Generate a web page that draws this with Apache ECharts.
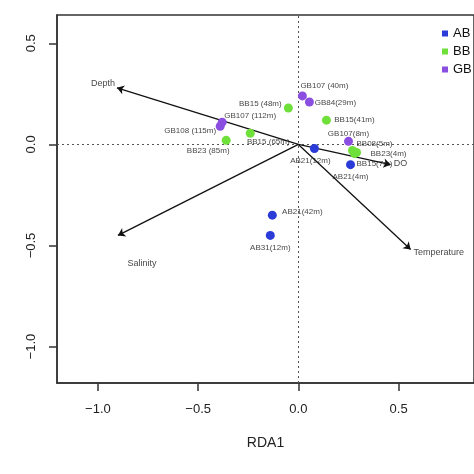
<!DOCTYPE html>
<html><head><meta charset="utf-8">
<script src="https://cdn.jsdelivr.net/npm/echarts@6/dist/echarts.min.js"></script>
<style>html,body{margin:0;padding:0;background:#fff}#c{width:474px;height:474px}</style>
</head><body><div id="c"></div>
<script>
// sites per group: [RDA1, RDA2, name]
var abSites = [[0.08,-0.02,'AB21(12m)'],[0.26,-0.10,'AB21(4m)'],[-0.13,-0.35,'AB21(42m)'],[-0.14,-0.45,'AB31(12m)']];
var bbSites = [[-0.05,0.18,'BB15 (48m)'],[0.14,0.12,'BB15(41m)'],[-0.24,0.055,'BB15 (65m)'],[-0.36,0.02,'BB23 (85m)'],
               [0.27,-0.03,'BB08(5m)'],[0.29,-0.04,'BB23(4m)'],[0.28,-0.045,'BB15(7m)']];
var gbSites = [[0.02,0.24,'GB107 (40m)'],[0.055,0.21,'GB84(29m)'],[-0.38,0.11,'GB107 (112m)'],[-0.39,0.09,'GB108 (115m)'],[0.25,0.015,'GB107(8m)']];
// environmental vectors
var envNames = ['Depth','DO','Salinity','Temperature'];
var envX = [-0.905,0.46,-0.90,0.56];
var envY = [0.28,-0.10,-0.45,-0.52];
var xTicks = [-1.0,-0.5,0.0,0.5];
var yTicks = [-1.0,-0.5,0.0,0.5];

// label offsets [dx,dy] relative to the point
var labelPos = {
  'AB21(12m)':[-4,12],'AB21(4m)':[0,12],'AB21(42m)':[30,-3],'AB31(12m)':[0,12],
  'BB15 (48m)':[-28,-4],'BB15(41m)':[28,0],'BB15 (65m)':[18,9],'BB23 (85m)':[-18,10],
  'BB08(5m)':[22,-7],'BB23(4m)':[32,1],'BB15(7m)':[20,10],
  'GB107 (40m)':[22,-10],'GB84(29m)':[26,1],'GB107 (112m)':[28,-6],'GB108 (115m)':[-30,5],'GB107(8m)':[0,-8]
};
var envLabelPos = {'Depth':[-14,-4],'DO':[10,-1],'Salinity':[24,28],'Temperature':[28,3]};

function siteSeries(name, color, sites){
  return {
    name: name, type: 'scatter', symbolSize: 9, itemStyle: {color: color, opacity: 1},
    data: sites.map(function(s){return {value:[s[0],s[1]], name:s[2]};}),
    label: {show: false}, z: 5
  };
}
function labelData(sites){
  return sites.map(function(s){
    return {value:[s[0],s[1]], label:{show:true, formatter:s[2], offset:labelPos[s[2]]}};
  });
}
var allSites = abSites.concat(bbSites, gbSites);

var chart = echarts.init(document.getElementById('c'));
chart.setOption({
  animation: false,
  grid: {left: 57, top: 15, right: 0, bottom: 91, show: true, borderColor: '#333', borderWidth: 1.5, backgroundColor: 'transparent'},
  legend: {
    data: ['AB','BB','GB'], orient: 'vertical', left: 437, top: 22, itemWidth: 6, itemHeight: 6, itemGap: 5, icon: 'rect',
    textStyle: {fontSize: 13, color: '#111', fontFamily: 'Liberation Sans'}
  },
  xAxis: {
    type: 'value', min: -1.204, max: 0.876, name: 'RDA1', nameLocation: 'middle', nameGap: 53,
    nameTextStyle: {fontSize: 14, color: '#222', fontFamily: 'Liberation Sans'},
    axisLine: {show: true, onZero: false, lineStyle: {color: '#333', width: 1.5}}, splitLine: {show: false},
    axisTick: {show: true, length: 8, customValues: xTicks, lineStyle: {color: '#333', width: 1.5}},
    axisLabel: {customValues: xTicks, fontSize: 13, color: '#222', margin: 20, fontFamily: 'Liberation Sans',
      formatter: function(v){return v.toFixed(1).replace('-','\u2212');}}
  },
  yAxis: {
    type: 'value', min: -1.18, max: 0.64,
    axisLine: {show: true, onZero: false, lineStyle: {color: '#333', width: 1.5}}, splitLine: {show: false},
    axisTick: {show: true, length: 8, customValues: yTicks, lineStyle: {color: '#333', width: 1.5}},
    axisLabel: {customValues: yTicks, fontSize: 13, color: '#222', rotate: 90, margin: 19, fontFamily: 'Liberation Sans',
      formatter: function(v){return v.toFixed(1).replace('-','\u2212');}}
  },
  series: [
    {
      type: 'line', data: [], silent: true,
      markLine: {
        silent: true, symbol: 'none', label: {show: false},
        lineStyle: {type: [2,3], color: '#555', width: 1},
        data: [{xAxis: 0}, {yAxis: 0}]
      }
    },
    {
      type: 'line', data: [], silent: true,
      markLine: {
        silent: true, symbol: ['none','arrow'], symbolSize: 7, label: {show: false},
        lineStyle: {type: 'solid', color: '#111', width: 1.3},
        data: envNames.map(function(n,i){return [{coord:[0,0]},{coord:[envX[i],envY[i]]}];})
      }
    },
    {
      type: 'scatter', symbolSize: 0, silent: true,
      data: envNames.map(function(n,i){return {value:[envX[i],envY[i]], label:{show:true, formatter:n, offset:envLabelPos[n]}};}),
      label: {fontSize: 9, color: '#111', fontFamily: 'Liberation Sans'}
    },
    siteSeries('AB','#2a3bd8',abSites),
    siteSeries('BB','#6fe03a',bbSites),
    siteSeries('GB','#8a4fe0',gbSites),
    {
      type: 'scatter', symbolSize: 0, silent: true, z: 6,
      data: labelData(allSites),
      label: {fontSize: 8, color: '#111', fontFamily: 'Liberation Sans'}
    }
  ]
});
</script></body></html>
